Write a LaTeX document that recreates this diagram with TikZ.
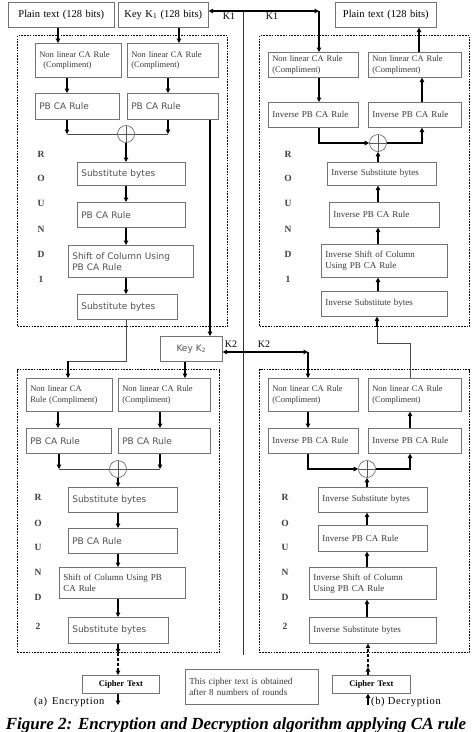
\documentclass[tikz,border=0pt]{standalone}
\usepackage{fontspec}
\setmainfont{Liberation Serif}
\setsansfont{DejaVu Sans}
\usetikzlibrary{arrows.meta,calc}
\newcommand\mybox[7]{%
  \pgfmathsetmacro\mytw{#5-8}%
  \node[#1, anchor=north west, minimum width=#5pt, minimum height=#6pt, text width=\mytw pt] (#2) at (#3,#4) {#7};}
\begin{document}
\begin{tikzpicture}[x=1pt,y=-1pt,
  box/.style={draw=black!55, line width=0.6pt, inner xsep=4pt, inner ysep=1pt, align=left, text=black!78, font=\fontsize{8.5}{10.5}\selectfont},
  ibox/.style={box, font=\fontsize{9}{11}\selectfont},
  sbox/.style={box, font=\sffamily\fontsize{9}{11}\selectfont, text=black!68},
  tbox/.style={box, align=center, text=black, font=\fontsize{10.5}{12}\selectfont},
  cbox/.style={box, align=center, text=black, font=\bfseries\fontsize{8.5}{10}\selectfont},
  nbox/.style={box, font=\fontsize{9.2}{11}\selectfont},
  dbox/.style={draw=black, line width=1.3pt, dash pattern=on 1.6pt off 1.2pt, inner sep=0pt},
  arr/.style={-{Triangle[length=4.5pt,width=4.5pt]}, line width=1.2pt},
  arrtwo/.style={{Triangle[length=4.5pt,width=4.5pt]}-{Triangle[length=4.5pt,width=4.5pt]}, line width=1.2pt},
  tline/.style={draw=black!70, line width=0.6pt},
  xor/.style={circle, draw=black!65, line width=0.6pt, minimum size=17pt, inner sep=0pt,
    path picture={\draw[black!65, line width=0.6pt] (path picture bounding box.north) -- (path picture bounding box.south)
      (path picture bounding box.west) -- (path picture bounding box.east);}},
  rl/.style={font=\bfseries\fontsize{9.5}{10}\selectfont, text=black!75, inner sep=0pt},
  lab/.style={font=\fontsize{10}{11}\selectfont, inner sep=0pt},
  capt/.style={font=\fontsize{10.5}{12}\selectfont\addfontfeature{LetterSpace=6.0}, inner sep=0pt, anchor=west}
]
\path[use as bounding box, fill=white] (0,0) rectangle (474,732);

% top boxes
\mybox{tbox}{ptL}{8}{2}{106}{25}{Plain text (128 bits)}
\mybox{tbox}{k1}{118}{2}{90}{25}{Key K\textsubscript{1} (128 bits)}
\mybox{tbox}{ptR}{335}{2}{101}{25}{Plain text (128 bits)}

% dotted round frames
\mybox{dbox}{dE1}{17}{35}{210}{291}{}
\mybox{dbox}{dE2}{17}{369}{202}{283}{}
\mybox{dbox}{dD1}{259}{35}{210}{291}{}
\mybox{dbox}{dD2}{259}{369}{210}{283}{}

% encryption round 1
\mybox{box}{nlA1}{35}{43}{86}{34}{Non~linear~CA~Rule\\\hspace*{4pt}(Compliment)}
\mybox{box}{nlB1}{127}{43}{91}{34}{Non~linear~CA~Rule\\(Compliment)}
\mybox{sbox}{pbA1}{35}{93}{84}{26}{PB CA Rule}
\mybox{sbox}{pbB1}{127}{93}{91}{26}{PB CA Rule}
\node[xor] (xE1) at (126,134) {};
\mybox{sbox}{sbE1}{77}{162}{108}{23}{Substitute bytes}
\mybox{sbox}{pbE1}{77}{202}{108}{25}{PB CA Rule}
\mybox{sbox}{shE1}{68}{245}{125}{32}{Shift of Column Using\\PB CA Rule}
\mybox{sbox}{sbE1b}{77}{294}{100}{25}{Substitute bytes}

% key 2
\mybox{sbox, align=center}{k2}{160}{336}{62}{25}{Key K\textsubscript{2}}

% encryption round 2
\mybox{box}{nlA2}{26}{378}{86}{33}{Non~linear~CA\\Rule~(Compliment)}
\mybox{box}{nlB2}{118}{378}{92}{33}{Non~linear~CA~Rule\\(Compliment)}
\mybox{sbox}{pbA2}{26}{428}{85}{25}{PB CA Rule}
\mybox{sbox}{pbB2}{118}{428}{92}{25}{PB CA Rule}
\node[xor] (xE2) at (118,469) {};
\mybox{sbox}{sbE2}{68}{487}{109}{25}{Substitute bytes}
\mybox{sbox}{pbE2}{68}{528}{109}{25}{PB CA Rule}
\mybox{ibox}{shE2}{59}{567}{126}{31}{Shift of Column Using PB\\CA Rule}
\mybox{sbox}{sbE2b}{68}{617}{100}{26}{Substitute bytes}

% bottom boxes
\mybox{cbox}{ctE}{82}{675}{77}{18}{Cipher Text}
\mybox{nbox}{note}{185}{669}{133}{35}{This cipher text is obtained\\after 8 numbers of rounds}
\mybox{cbox}{ctD}{332}{675}{78}{18}{Cipher Text}

% decryption round 1
\mybox{box}{nlA1d}{268}{52}{90}{25}{Non~linear~CA~Rule\\(Compliment)}
\mybox{box}{nlB1d}{368}{52}{93}{25}{Non~linear~CA~Rule\\(Compliment)}
\mybox{ibox}{ipA1}{268}{102}{90}{25}{Inverse PB CA Rule}
\mybox{ibox}{ipB1}{368}{102}{93}{25}{Inverse PB CA Rule}
\node[xor] (xD1) at (378,143) {};
\mybox{ibox}{isD1}{327}{162}{109}{23}{Inverse Substitute bytes}
\mybox{ibox}{ipD1}{329}{202}{110}{25}{Inverse PB CA Rule}
\mybox{ibox}{ishD1}{321}{244}{126}{33}{Inverse Shift of Column\\Using PB CA Rule}
\mybox{ibox}{isD1b}{321}{291}{126}{25}{Inverse Substitute bytes}

% decryption round 2
\mybox{box}{nlA2d}{268}{378}{90}{33}{Non~linear~CA~Rule\\(Compliment)}
\mybox{box}{nlB2d}{368}{378}{93}{33}{Non~linear~CA~Rule\\(Compliment)}
\mybox{ibox}{ipA2}{268}{428}{90}{25}{Inverse PB CA Rule}
\mybox{ibox}{ipB2}{368}{428}{93}{25}{Inverse PB CA Rule}
\node[xor] (xD2) at (367,469) {};
\mybox{ibox}{isD2}{318}{487}{109}{25}{Inverse Substitute bytes}
\mybox{ibox}{ipD2}{318}{525}{109}{26}{Inverse PB CA Rule}
\mybox{ibox}{ishD2}{309}{567}{127}{32}{Inverse Shift of Column\\Using PB CA Rule}
\mybox{ibox}{isD2b}{309}{617}{127}{26}{Inverse Substitute bytes}

% ROUND letters
\foreach \l/\y [count=\i] in {R/154,O/178,U/203,N/229,D/254,1/279}{
  \node[rl] (eA\i) at (41,\y) {\l};
  \node[rl] (dA\i) at (288,\y) {\l};}
\foreach \l/\y [count=\i] in {R/497,O/523,U/547,N/572,D/597,2/626}{
  \node[rl] (eB\i) at (38,\y) {\l};
  \node[rl] (dB\i) at (285,\y) {\l};}

% key lines and centre line
\coordinate (ctop) at (243,11);
\coordinate (cbot) at (243,655);
\draw[black!80, line width=0.8pt] (ctop) -- (cbot);
\coordinate (k1c) at (319,11);
\draw[arrtwo] (k1.east |- k1c) -- (k1c);
\draw[arr] (k1c) -- (k1c |- nlA1d.north);
\coordinate (k2c) at (308,352);
\draw[arrtwo] (k2.east |- k2c) -- (k2c);
\draw[arr] (k2c) -- (k2c |- nlA2d.north);
\node[lab] (lk1a) at (229,16) {K1};
\node[lab] (lk1b) at (272,16) {K1};
\node[lab] (lk2a) at (231,344) {K2};
\node[lab] (lk2b) at (264,344) {K2};

% encryption round 1 connectors
\draw[arr] (ptL.south -| 58,0) -- (nlA1.north -| 58,0);
\draw[arr] (k1.south -| 179,0) -- (nlB1.north -| 179,0);
\draw[arr] (nlA1.south -| 67,0) -- (pbA1.north -| 67,0);
\draw[arr] (nlB1.south -| 168,0) -- (pbB1.north -| 168,0);
\draw[arr] (pbA1.south -| 67,0) -- (xE1 -| 67,0);
\draw[arr] (pbB1.south -| 168,0) -- (xE1 -| 168,0);
\draw[tline] (xE1 -| 67,0) -- (xE1.west) (xE1.east) -- (xE1 -| 168,0);
\draw[arr] (xE1.south) -- (xE1 |- sbE1.north);
\draw[arr] (sbE1.south -| xE1) -- (pbE1.north -| xE1);
\draw[arr] (pbE1.south -| xE1) -- (shE1.north -| xE1);
\draw[arr] (shE1.south -| xE1) -- (sbE1b.north -| xE1);
\coordinate (j1) at (126,361);
\coordinate (j2) at (68,361);
\draw[tline] (sbE1b.south -| j1) -- (j1) -- (j2);
\draw[arr] (j2) -- (j2 |- nlA2.north);
\draw[arr] (pbB1.south -| 210,0) -- (k2.north -| 210,0);

% encryption round 2 connectors
\draw[arr] (k2.south -| 185,0) -- (nlB2.north -| 185,0);
\draw[arr] (nlA2.south -| 58,0) -- (pbA2.north -| 58,0);
\draw[arr] (nlB2.south -| 160,0) -- (pbB2.north -| 160,0);
\draw[arr] (pbA2.south -| 59,0) -- (xE2 -| 59,0);
\draw[arr] (pbB2.south -| 160,0) -- (xE2 -| 160,0);
\draw[tline] (xE2 -| 59,0) -- (xE2.west) (xE2.east) -- (xE2 -| 160,0);
\draw[arr] (xE2.south) -- (xE2 |- sbE2.north);
\draw[arr] (sbE2.south -| xE2) -- (pbE2.north -| xE2);
\draw[arr] (pbE2.south -| xE2) -- (shE2.north -| xE2);
\draw[arr] (shE2.south -| xE2) -- (sbE2b.north -| xE2);
\draw[arr] (sbE2b.south -| xE2) -- (xE2 |- dE2.south);
\draw[arr, dash pattern=on 3pt off 2pt] (xE2 |- dE2.south) -- (xE2 |- ctE.north);
\coordinate (eout) at (118,705);
\draw[arr] (ctE.south -| eout) -- (eout);
\node[capt] (capE) at (34,702) {(a)\hspace{5pt}Encryption};

% decryption round 1 connectors
\draw[arr] (nlA1d.south -| k1c) -- (ipA1.north -| k1c);
\draw[arr] (ipA1.south -| k1c) |- (xD1.west);
\draw[arr] (xD1.east) -| (ipB1.south -| 422,0);
\draw[arr] (ipB1.north -| 422,0) -- (nlB1d.south -| 422,0);
\draw[arr] (nlB1d.north -| 419,0) -- (ptR.south -| 419,0);
\draw[arr] (isD1.north -| xD1) -- (xD1.south);
\draw[arr] (ipD1.north -| xD1) -- (isD1.south -| xD1);
\draw[arr] (ishD1.north -| xD1) -- (ipD1.south -| xD1);
\draw[arr] (isD1b.north -| xD1) -- (ishD1.south -| xD1);
\coordinate (f1) at (410,343);
\coordinate (f2) at (377,343);
\draw[tline] (nlB2d.north -| f1) -- (f1) -- (f2) -- (f2 |- dD1.south);
\draw[arr] (f2 |- dD1.south) -- (f2 |- isD1b.south);

% decryption round 2 connectors
\draw[arr] (nlA2d.south -| k2c) -- (ipA2.north -| k2c);
\draw[arr] (ipA2.south -| k2c) |- (xD2.west);
\draw[arr] (xD2.east) -| (ipB2.south -| 410,0);
\draw[arr] (ipB2.north -| 410,0) -- (nlB2d.south -| 410,0);
\draw[arr] (isD2.north -| xD2) -- (xD2.south);
\draw[arr] (ipD2.north -| xD2) -- (isD2.south -| xD2);
\draw[arr] (ishD2.north -| xD2) -- (ipD2.south -| xD2);
\draw[arr] (isD2b.north -| xD2) -- (ishD2.south -| xD2);
\coordinate (din) at (368,705);
\coordinate (dmid) at (368,667);
\draw[arr] (din) -- (ctD.south -| din);
\draw[arr] (ctD.north -| din) -- (dmid);
\draw[arr, dash pattern=on 3pt off 2pt] (dmid) -- (isD2b.south -| din);
\node[capt] (capD) at (371,702) {(b) Decryption};

% caption
\node[font=\bfseries\itshape\fontsize{17}{19}\selectfont, anchor=base, inner sep=0pt] (cap) at (236,729) {Figure 2: Encryption and Decryption algorithm applying CA rule};
\end{tikzpicture}
\end{document}
